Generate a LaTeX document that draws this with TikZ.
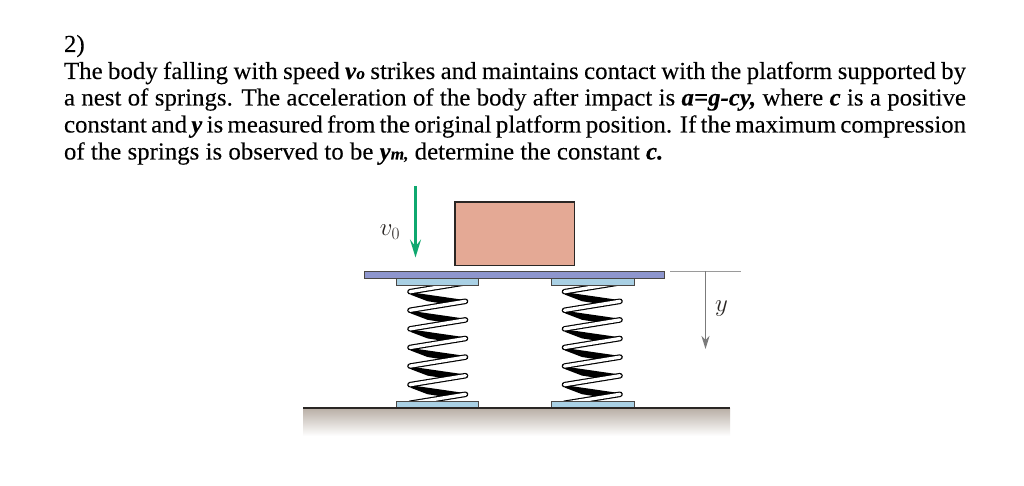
\documentclass[tikz,border=0pt]{standalone}
\usepackage{fontspec}
\setmainfont{Liberation Serif}[FakeStretch=1.015,FakeBold=0.08]
\usetikzlibrary{arrows.meta}
\definecolor{plateblue}{HTML}{8E96CE}
\definecolor{padblue}{HTML}{A9D0E4}
\definecolor{blockred}{HTML}{E4A995}
\definecolor{arrowgreen}{HTML}{0EA86F}
\definecolor{ink}{HTML}{2A2624}
\definecolor{dimgrey}{HTML}{9A9A9A}
\definecolor{soil}{HTML}{B8AEA5}
\tikzset{
  textline/.style={anchor=base west,inner sep=0pt,outer sep=0pt,font=\fontsize{24.5}{27}\selectfont,text=black},
  pad/.style={draw=ink!85,line width=0.9pt,fill=padblue},
  dimline/.style={draw=dimgrey,line width=1pt},
  dimarrow/.style={draw=dimgrey!80!black,line width=1pt,-{Stealth[inset=4pt,length=13pt,width=8pt]}},
  varlabel/.style={inner sep=0pt,font=\fontsize{24}{24}\selectfont,text=ink},
}
\newcommand{\bi}[1]{\textbf{\textit{#1}}}
\newcommand{\bismall}[1]{\textbf{\textit{\fontsize{17}{17}\selectfont #1}}}
\newcommand{\coilspring}[1]{%
  \foreach \i in {0,...,5}{
    \pgfmathsetmacro{\yl}{291.7+18.6*\i}
    \fill[black] (#1-27,\yl+0.5) -- (#1+25,\yl+8) -- (#1+28,\yl+10.5) -- (#1+6,\yl+12) -- (#1-10,\yl+9.5) -- (#1-27,\yl+3) -- cycle;
  }
  \foreach \i in {0,...,6}{
    \pgfmathsetmacro{\yl}{291.7+18.6*\i}
    \pgfmathsetmacro{\yr}{\yl-9}
    \draw[black,line width=5.6pt,line cap=round] (#1-27.5,\yl) -- (#1+28,\yr);
    \draw[white,line width=3.3pt,line cap=round] (#1-27.5,\yl) -- (#1+28,\yr);
  }
}
\begin{document}
\begin{tikzpicture}[x=1pt,y=-1pt]
\useasboundingbox (0,0) rectangle (1024,486);
\fill[white] (0,0) rectangle (1024,486);
% text
\node[textline] (t0) at (64,52) {2)};
\node[textline] (t1) at (64,79) {\hbox to 902pt{The body falling with speed \bi{v}\bismall{o} strikes and maintains contact with the platform supported by}};
\node[textline] (t2) at (64,105.5) {\hbox to 902pt{a nest of springs. The acceleration of the body after impact is \bi{a=g-cy,} where \bi{c} is a positive}};
\node[textline] (t3) at (64,132.5) {\hbox to 902pt{constant and \bi{y} is measured from the original platform position. If the maximum compression}};
\node[textline] (t4) at (64,159.5) {of the springs is observed to be \bi{y}\bismall{m,} determine the constant \bi{c.}};
% ground
\shade[top color=soil,bottom color=white] (303,408) rectangle (730,436);
% springs
\coilspring{437.5}
\coilspring{592}
% plates
\draw[pad] (396,278) rectangle (478.5,285);
\draw[pad] (551,278) rectangle (634,285);
\draw[pad] (396,401) rectangle (478.5,407.5);
\draw[pad] (551,401) rectangle (634,407.5);
\draw[ink!85,line width=0.9pt,fill=plateblue] (364.5,271) rectangle (664.5,278);
\draw[ink,line width=1.3pt,fill=blockred] (455,202) rectangle (574.5,265.5);
\coordinate (gl) at (303,408);
\coordinate (gr) at (730,408);
\draw[ink,line width=1.8pt] (gl) -- (gr);
% v0 arrow
\coordinate (va) at (415.5,186);
\coordinate (vb) at (415.5,257.5);
\draw[arrowgreen,line width=2.4pt,-{Stealth[inset=7pt,length=18pt,width=11pt]}] (va) -- (vb);
\node[varlabel] (v0) at (390,232) {$v_0$};
% y dimension
\coordinate (da) at (670,271);
\coordinate (db) at (741,271);
\coordinate (dc) at (705.5,271);
\coordinate (dd) at (705.5,349);
\draw[dimline] (da) -- (db);
\draw[dimarrow] (dc) -- (dd);
\node[varlabel] (yl) at (721.5,309) {$y$};
\end{tikzpicture}
\end{document}
